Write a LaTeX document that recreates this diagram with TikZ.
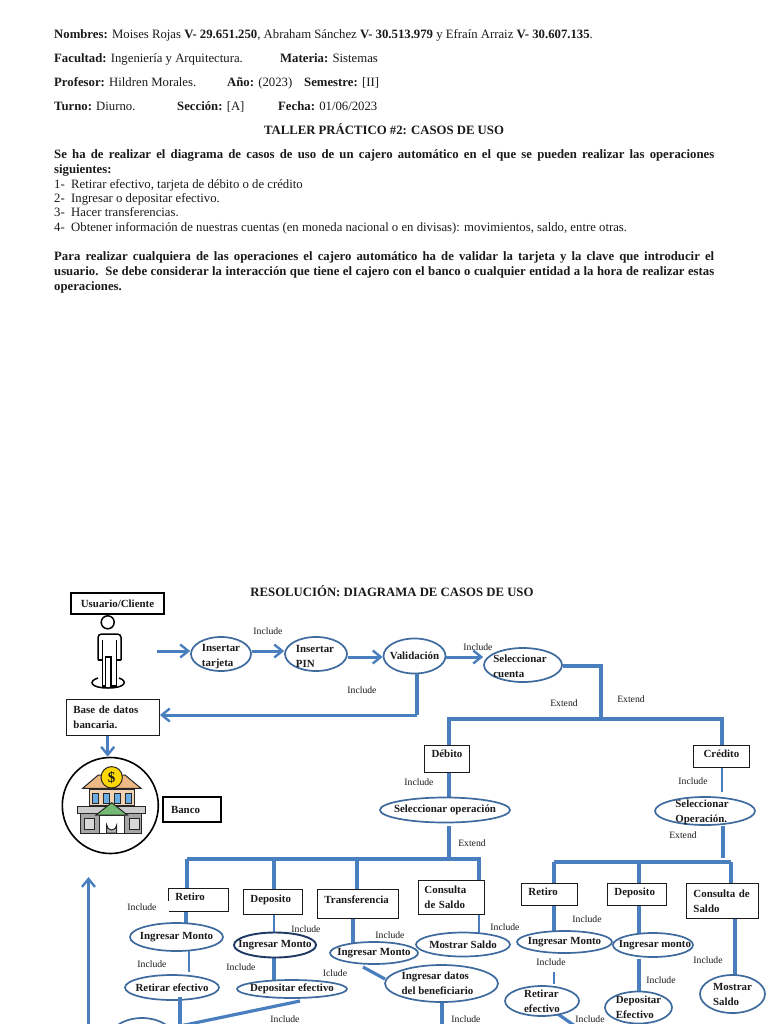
\documentclass[tikz,border=0pt]{standalone}
\usepackage{fontspec}
\setmainfont{Liberation Serif}
\usetikzlibrary{shapes.geometric,arrows.meta,backgrounds}
\definecolor{flow}{HTML}{4A7FBF}
\definecolor{ucline}{HTML}{3E6A9E}
\definecolor{navy}{HTML}{1F3864}
\definecolor{ink}{HTML}{1A1A1A}
\tikzset{
  doc/.style={anchor=base west,inner sep=0pt,text=ink,font=\fontsize{12.75}{14}\selectfont},
  title/.style={anchor=base,inner sep=0pt,text=ink,font=\fontsize{12.75}{14}\selectfont\bfseries},
  uctxt/.style={inner sep=0pt,align=left,text=ink,font=\fontsize{10.9}{15}\selectfont\bfseries},
  uc/.style 2 args={ellipse,draw=ucline,line width=1.7pt,fill=white,inner sep=0pt,minimum width=#1pt,minimum height=#2pt},
  sbox/.style={rectangle,draw=ink,line width=0.9pt,fill=white,inner sep=0pt,anchor=north west,align=left,text=ink,font=\fontsize{10.9}{15}\selectfont\bfseries},
  actor/.style={rectangle,draw=black,line width=2pt,fill=white,inner sep=0pt,anchor=north west,text=ink,font=\fontsize{10.9}{15}\selectfont\bfseries},
  lbl/.style={inner sep=0pt,text=ink,font=\fontsize{9.7}{11}\selectfont},
  conn/.style={draw=flow,line width=3.2pt},
  thin conn/.style={draw=flow,line width=2.2pt},
  arr/.style={draw=flow,line width=3pt,-{Straight Barb[length=8pt,width=13pt,line width=2.4pt]}},
  raised/.style={text height=7pt,text depth=#1},
}
\begin{document}
\begin{tikzpicture}[x=1pt,y=-1pt]
\useasboundingbox (0,0) rectangle (768,1024);
\clip (0,0) rectangle (768,1024);

% ---------- document header
\node[doc] (n1) at (54,38.5) {\textbf{Nombres:} Moises Rojas \textbf{V- 29.651.250}, Abraham Sánchez \textbf{V- 30.513.979} y Efraín Arraiz \textbf{V- 30.607.135}.};
\node[doc] (n2a) at (54,62.5) {\textbf{Facultad:} Ingeniería y Arquitectura.};
\node[doc] (n2b) at (280,62.5) {\textbf{Materia:} Sistemas};
\node[doc] (n3a) at (54,86.5) {\textbf{Profesor:} Hildren Morales.};
\node[doc] (n3b) at (227,86.5) {\textbf{Año:} (2023)};
\node[doc] (n3c) at (304,86.5) {\textbf{Semestre:} [II]};
\node[doc] (n4a) at (54,110.5) {\textbf{Turno:} Diurno.};
\node[doc] (n4b) at (177,110.5) {\textbf{Sección:} [A]};
\node[doc] (n4c) at (278,110.5) {\textbf{Fecha:} 01/06/2023};
\node[title] (t1) at (384,134.5) {TALLER PRÁCTICO \#2: CASOS DE USO};
\node[doc] (p1) at (54,158.5) {\makebox[660pt][s]{\bfseries Se ha de realizar el diagrama de casos de uso de un cajero automático en el que se pueden realizar las operaciones}};
\node[doc] (p2) at (54,173.5) {\textbf{siguientes:}};
\node[doc] (l1) at (54,188.5) {1-\ \ Retirar efectivo, tarjeta de débito o de crédito};
\node[doc] (l2) at (54,202.5) {2-\ \ Ingresar o depositar efectivo.};
\node[doc] (l3) at (54,216.5) {3-\ \ Hacer transferencias.};
\node[doc] (l4) at (54,231.5) {4-\ \ Obtener información de nuestras cuentas (en moneda nacional o en divisas): movimientos, saldo, entre otras.};
\node[doc] (q1) at (54,260.5) {\makebox[660pt][s]{\bfseries Para realizar cualquiera de las operaciones el cajero automático ha de validar la tarjeta y la clave que introducir el}};
\node[doc] (q2) at (54,275.5) {\makebox[660pt][s]{\bfseries usuario.\ \ Se debe considerar la interacción que tiene el cajero con el banco o cualquier entidad a la hora de realizar estas}};
\node[doc] (q3) at (54,290.5) {\textbf{operaciones.}};
\node[title] (t2) at (392,596) {RESOLUCIÓN: DIAGRAMA DE CASOS DE USO};

% ---------- actors and top row
\node[actor,minimum width=93pt,minimum height=21pt,text width=93pt,align=center] (user) at (70,592) {Usuario/Cliente};
\node[sbox,minimum width=93pt,minimum height=36pt,text width=93pt] (base) at (66,699) {\hspace*{7pt}Base de datos\\\hspace*{7pt}bancaria.};
\node[circle,draw=black,line width=1.6pt,fill=white,minimum size=96pt,inner sep=0pt] (bank) at (110.3,805.5) {};
\node[actor,minimum width=58pt,minimum height=25pt,text width=58pt] (banco) at (162,796) {\hspace*{8pt}Banco};

\node[uc={60}{34},label={[uctxt,yshift=-2.5pt]center:Insertar\\tarjeta}] (tarjeta) at (221,654) {};
\node[uc={62}{34},label={[uctxt,xshift=-1pt,yshift=-2.5pt]center:Insertar\\PIN}] (pin) at (316,654) {};
\node[uc={62}{35},label={[uctxt]center:Validación}] (valid) at (414.5,656) {};
\node[uc={78}{34},label={[uctxt,xshift=-3pt,yshift=-1.5pt]center:Seleccionar\\cuenta}] (selcta) at (523,665) {};

% ---------- debit / credit
\node[sbox,minimum width=45pt,minimum height=27pt,text width=45pt,align=center,raised=9pt] (debito) at (424,745) {Débito};
\node[sbox,minimum width=56pt,minimum height=22pt,text width=56pt,align=center,raised=4pt] (credito) at (693,745) {Crédito};
\node[uc={130}{25},label={[uctxt]center:Seleccionar operación}] (selopd) at (445,810) {};
\node[uc={100}{28},label={[uctxt,xshift=-3pt,yshift=-1.5pt]center:Seleccionar\\Operación.}] (selopc) at (705,811) {};

% ---------- debit branch
\node[sbox,minimum width=60pt,minimum height=23pt,text width=60pt,raised=5pt] (ret1) at (168,888) {\hspace*{7pt}Retiro};
\node[sbox,minimum width=59pt,minimum height=25pt,text width=59pt,raised=6pt] (dep1) at (243,889) {\hspace*{7pt}Deposito};
\node[sbox,minimum width=81pt,minimum height=29pt,text width=81pt,raised=8pt] (tra1) at (317,889) {\hspace*{7pt}Transferencia};
\node[sbox,minimum width=66pt,minimum height=34pt,text width=66pt] (con1) at (418,880) {\hspace*{6pt}Consulta\\\hspace*{6pt}de Saldo};

\node[uc={93}{28},label={[uctxt]center:Ingresar Monto}] (mon1) at (176.5,937) {};
\node[uc={94}{25},label={[uctxt]center:Retirar efectivo}] (efe1) at (172,987.5) {};
\node[ellipse,draw=navy,line width=1.9pt,fill=white,inner sep=0pt,minimum width=82pt,minimum height=25pt,label={[uctxt]center:Ingresar Monto}] (mon2) at (275,945) {};
\node[uc={110}{18},label={[uctxt]center:Depositar efectivo}] (efe2) at (292,989) {};
\node[uc={88}{22},label={[uctxt]center:Ingresar Monto}] (mon3) at (374,953) {};
\node[uc={113}{37},label={[uctxt,xshift=-4pt]center:Ingresar datos\\del beneficiario}] (dat3) at (441.5,983.5) {};
\node[uc={94}{24},label={[uctxt]center:Mostrar Saldo}] (sal1) at (463,944.5) {};
\node[uc={66}{44}] (ext1) at (142,1040) {};

% ---------- credit branch
\node[sbox,minimum width=56pt,minimum height=22pt,text width=56pt,raised=4pt] (ret2) at (521,883) {\hspace*{7pt}Retiro};
\node[sbox,minimum width=59pt,minimum height=22pt,text width=59pt,raised=4pt] (dep2) at (607,883) {\hspace*{7pt}Deposito};
\node[sbox,minimum width=72pt,minimum height=35pt,text width=72pt] (con2) at (686,883) {\hspace*{7pt}Consulta de\\\hspace*{7pt}Saldo};
\node[uc={95}{22},label={[uctxt]center:Ingresar Monto}] (mon4) at (564.5,942) {};
\node[uc={80}{24},label={[uctxt,xshift=2pt]center:Ingresar monto}] (mon5) at (653,945) {};
\node[uc={74}{30},label={[uctxt]center:Retirar\\efectivo}] (efe4) at (542,1001) {};
\node[uc={67}{32},label={[uctxt]center:Depositar\\Efectivo}] (efe5) at (638.5,1007.5) {};
\node[uc={65}{38},label={[uctxt]center:Mostrar\\Saldo}] (sal2) at (732.5,994) {};

% ---------- free ends and junctions
\coordinate (a0) at (157,651);
\coordinate (a2) at (0,657);
\coordinate (v1) at (417,715);
\coordinate (h1) at (601,719);
\coordinate (h1a) at (601,666);
\coordinate (dj) at (449,719);
\coordinate (cj) at (722,719);
\coordinate (busL) at (187,859);
\coordinate (busR) at (479,859);
\coordinate (busM) at (449,859);
\coordinate (sd) at (449,826);
\coordinate (b2L) at (554,862);
\coordinate (b2R) at (731,862);
\coordinate (b2T) at (723,858);
\coordinate (sc) at (723,826);
\coordinate (b2D) at (639,862);
\coordinate (d1) at (274,859);
\coordinate (t1x) at (357,859);
\coordinate (x1) at (186,900);
\coordinate (x2) at (189,951);
\coordinate (x2e) at (189,972);
\coordinate (x3) at (180,997);
\coordinate (x3e) at (180,1030);
\coordinate (x4) at (300,1001);
\coordinate (x4e) at (180,1026);
\coordinate (x5) at (353,900);
\coordinate (x6) at (363,967);
\coordinate (x6e) at (385,979);
\coordinate (x7) at (442,1030);
\coordinate (x8) at (554,972);
\coordinate (x8e) at (554,984);
\coordinate (x9) at (555,1012);
\coordinate (x9e) at (575,1026);
\coordinate (x10) at (639,959);
\coordinate (x11) at (735,900);
\coordinate (upS) at (88.5,1030);
\coordinate (upE) at (88.5,877);
\coordinate (cr1) at (722,767);
\coordinate (cr2) at (722,792);
\coordinate (bx) at (107.7,735);

% ---------- connectors behind the nodes
\begin{scope}[on background layer]
  \draw[conn] (selcta.east |- h1a) -- (h1a) -- (h1);
  \draw[conn] (debito.center -| dj) -- (dj) -- (cj) -- (credito.center -| cj);
  \draw[conn] (debito.center -| dj) -- (selopd.center -| dj);
  \draw[conn] (busL) -- (busR) -- (con1.center -| busR);
  \draw[conn] (busL) -- (ret1.center -| busL);
  \draw[conn] (d1) -- (dep1.center -| d1);
  \draw[conn] (t1x) -- (tra1.center -| t1x);
  \draw[conn] (x1) -- (mon1.center -| x1);
  \draw[thin conn] (dep1.center -| d1) -- (mon2.center -| d1);
  \draw[conn] (mon2.center -| d1) -- (efe2.center -| d1);
  \draw[conn] (x5) -- (mon3.center -| x5);
  \draw[thin conn] (con1.center -| busR) -- (sal1.center -| busR);
  \draw[conn] (b2L) -- (ret2.center -| b2L);
  \draw[conn] (b2D) -- (dep2.center -| b2D);
  \draw[conn] (b2R) -- (con2.center -| b2R);
  \draw[conn] (b2L) -- (b2R);
  \draw[conn] (ret2.center -| b2L) -- (mon4.center -| b2L);
  \draw[conn] (dep2.center -| b2D) -- (mon5.center -| b2D);
  \draw[conn] (x10) -- (efe5.center -| x10);
  \draw[conn] (con2.center -| x11) -- (sal2.center -| x11);
  \draw[conn] (dat3.center -| x7) -- (x7);
  \draw[conn] (x9) -- (x9e);
  \draw[thin conn] (credito.center -| cr1) -- (cr2);
  \draw[thin conn] (x2) -- (x2e);
  \draw[thin conn] (x8) -- (x8e);
\end{scope}

% ---------- connectors with a free end
\draw[conn] (sd) -- (busM);
\draw[conn] (sc) -- (b2T);
\draw[conn] (x3) -- (x3e);
\draw[conn] (x4) -- (x4e);
\draw[conn] (x6) -- (x6e);

% ---------- arrows
\draw[arr] (a0) -- (tarjeta.west |- a0);
\draw[arr] (tarjeta.east |- a0) -- (pin.west |- a0);
\draw[arr] (pin.east |- a2) -- (valid.west |- a2);
\draw[arr] (valid.east |- a2) -- (selcta.west |- a2);
\draw[conn] (valid.south -| v1) -- (v1);
\draw[arr] (v1) -- (base.east |- v1);
\draw[arr] (base.south -| bx) -- (bank.north -| bx);
\draw[arr] (upS) -- (upE);

% ---------- labels
\node[lbl] (i1) at (268,631) {Include};
\node[lbl] (i2) at (362,690) {Include};
\node[lbl] (i3) at (478,647) {Include};
\node[lbl] (e1) at (564,703) {Extend};
\node[lbl] (e2) at (631,699) {Extend};
\node[lbl] (i4) at (419,782) {Include};
\node[lbl] (i5) at (693,781) {Include};
\node[lbl] (e3) at (472,843) {Extend};
\node[lbl] (e4) at (683,835) {Extend};
\node[lbl,fill=white,minimum width=53pt,minimum height=12pt] (i6) at (142,907) {Include};
\node[lbl] (i7) at (152,964) {Include};
\node[lbl] (i8) at (306,929) {Include};
\node[lbl] (i9) at (241,967) {Include};
\node[lbl] (i10) at (335,973) {Iclude};
\node[lbl] (i11) at (390,935) {Include};
\node[lbl] (i12) at (505,927) {Include};
\node[lbl] (i13) at (285,1019.5) {Include};
\node[lbl] (i14) at (466,1019.5) {Include};
\node[lbl] (i15) at (587,919) {Include};
\node[lbl] (i16) at (551,962) {Include};
\node[lbl] (i17) at (590,1019) {Include};
\node[lbl] (i18) at (661,980) {Include};
\node[lbl] (i19) at (708,960) {Include};

% ---------- person icon
\begin{scope}[line width=1.5pt,draw=black]
  \draw (107.7,622.3) circle (6.5);
  \draw[rounded corners=3pt] (102.3,686) -- (102.3,640);
  \draw[rounded corners=3.5pt] (98,660) -- (98,634) -- (121,634) -- (121,660);
  \draw (98,660) -- (102.3,660);
  \draw (121,660) -- (116.7,660);
  \draw (116.7,640) -- (116.7,686) -- (111,686) -- (111,657) -- (105.7,657) -- (105.7,686) -- (102.3,686);
  \draw (98,678) .. controls (88,681) and (90,688) .. (108,688) .. controls (126,688) and (128,681) .. (119,678);
\end{scope}

% ---------- bank icon
\begin{scope}[line width=1pt,draw=black!85]
  \draw[fill=orange!50!brown!55!white] (82.7,788.3) -- (98.3,775) -- (125,775) -- (141,788.3) -- cycle;
  \draw[fill=orange!35!brown!35!white] (89.3,789) rectangle (134,805);
  \foreach \wx in {95.7,106.3,117,128} {\draw[fill=cyan!70!blue!60!white] (\wx-3,793) rectangle (\wx+3,803);}
  \draw[fill=yellow!75!orange] (111.7,777.3) circle (10.7);
  \node[inner sep=0pt,text=ink,font=\fontsize{15}{15}\selectfont\bfseries] (dollar) at (111.7,777.3) {\$};
  \draw[fill=black!20] (77.3,806) rectangle (145,813);
  \draw[fill=black!35] (80.7,813) rectangle (141.7,833);
  \foreach \wx in {84,129.3} {\draw[fill=black!15] (\wx,818) rectangle (\wx+10,829);}
  \draw[fill=white] (99,815) rectangle (124,833);
  \draw[fill=green!50!black!55!white] (96,815) -- (111.7,802.7) -- (127.3,815) -- cycle;
  \draw[fill=black!30] (106.7,833) -- (106.7,825) arc[start angle=180,end angle=0,radius=5] -- (116.7,833) -- cycle;
\end{scope}
\end{tikzpicture}
\end{document}
